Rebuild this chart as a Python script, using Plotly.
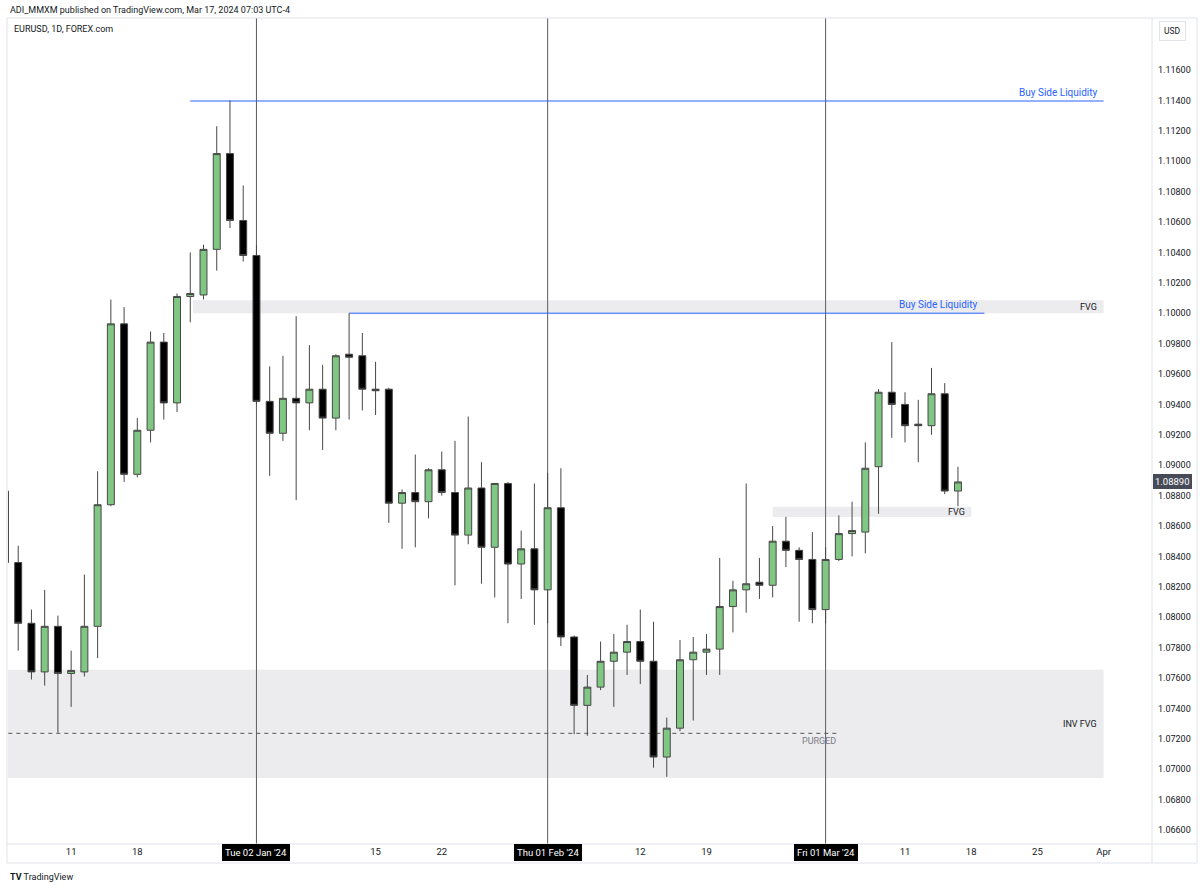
import pandas as pd
import plotly.graph_objects as go

# ── Daily EURUSD candles (FOREX.com) ─────────────────────────────────────────
dates = [
    "2023-12-04", "2023-12-05", "2023-12-06", "2023-12-07", "2023-12-08",
    "2023-12-11", "2023-12-12", "2023-12-13", "2023-12-14", "2023-12-15",
    "2023-12-18", "2023-12-19", "2023-12-20", "2023-12-21", "2023-12-22",
    "2023-12-26", "2023-12-27", "2023-12-28", "2023-12-29",
    "2024-01-02", "2024-01-03", "2024-01-04", "2024-01-05",
    "2024-01-08", "2024-01-09", "2024-01-10", "2024-01-11", "2024-01-12",
    "2024-01-15", "2024-01-16", "2024-01-17", "2024-01-18", "2024-01-19",
    "2024-01-22", "2024-01-23", "2024-01-24", "2024-01-25", "2024-01-26",
    "2024-01-29", "2024-01-30", "2024-01-31", "2024-02-01", "2024-02-02",
    "2024-02-05", "2024-02-06", "2024-02-07", "2024-02-08", "2024-02-09",
    "2024-02-12", "2024-02-13", "2024-02-14", "2024-02-15", "2024-02-16",
    "2024-02-19", "2024-02-20", "2024-02-21", "2024-02-22", "2024-02-23",
    "2024-02-26", "2024-02-27", "2024-02-28", "2024-02-29", "2024-03-01",
    "2024-03-04", "2024-03-05", "2024-03-06", "2024-03-07", "2024-03-08",
    "2024-03-11", "2024-03-12", "2024-03-13", "2024-03-14", "2024-03-15",
]
opens = [
    1.0883, 1.0836, 1.0796, 1.0764, 1.0794,
    1.0763, 1.0764, 1.0794, 1.0874, 1.0993,
    1.0894, 1.0923, 1.0981, 1.0941, 1.1011,
    1.1012, 1.1042, 1.1105, 1.1061,
    1.1038, 1.0942, 1.0921, 1.0944,
    1.0941, 1.0950, 1.0931, 1.0973, 1.0972,
    1.0950, 1.0950, 1.0875, 1.0882, 1.0876,
    1.0897, 1.0882, 1.0854, 1.0885, 1.0846,
    1.0888, 1.0835, 1.0845, 1.0818, 1.0872,
    1.0787, 1.0742, 1.0754, 1.0771, 1.0777,
    1.0784, 1.0771, 1.0708, 1.0727, 1.0772,
    1.0777, 1.0779, 1.0807, 1.0818, 1.0823,
    1.0821, 1.0850, 1.0844, 1.0838, 1.0805,
    1.0838, 1.0855, 1.0856, 1.0899, 1.0948,
    1.0940, 1.0927, 1.0926, 1.0947, 1.0883,
]
highs = [
    1.0895, 1.0847, 1.0805, 1.0818, 1.0801,
    1.0778, 1.0828, 1.0896, 1.1009, 1.1004,
    1.0931, 1.0988, 1.0987, 1.1013, 1.1040,
    1.1045, 1.1123, 1.1140, 1.1084,
    1.1045, 1.0965, 1.0972, 1.0998,
    1.0979, 1.0966, 1.0973, 1.1000, 1.0987,
    1.0968, 1.0951, 1.0884, 1.0907, 1.0898,
    1.0909, 1.0916, 1.0932, 1.0902, 1.0888,
    1.0889, 1.0857, 1.0888, 1.0895, 1.0898,
    1.0788, 1.0762, 1.0784, 1.0789, 1.0795,
    1.0805, 1.0797, 1.0734, 1.0785, 1.0787,
    1.0789, 1.0839, 1.0824, 1.0888, 1.0839,
    1.0860, 1.0866, 1.0846, 1.0856, 1.0846,
    1.0867, 1.0876, 1.0915, 1.0950, 1.0981,
    1.0948, 1.0943, 1.0964, 1.0954, 1.0899,
]
lows = [
    1.0834, 1.0778, 1.0759, 1.0755, 1.0724,
    1.0741, 1.0761, 1.0773, 1.0873, 1.0889,
    1.0892, 1.0915, 1.0930, 1.0935, 1.0994,
    1.1009, 1.1028, 1.1056, 1.1034,
    1.0940, 1.0893, 1.0916, 1.0877,
    1.0923, 1.0910, 1.0923, 1.0930, 1.0936,
    1.0933, 1.0862, 1.0845, 1.0846, 1.0865,
    1.0880, 1.0821, 1.0848, 1.0822, 1.0813,
    1.0796, 1.0812, 1.0795, 1.0796, 1.0781,
    1.0723, 1.0722, 1.0752, 1.0741, 1.0762,
    1.0756, 1.0701, 1.0695, 1.0725, 1.0732,
    1.0762, 1.0762, 1.0790, 1.0803, 1.0812,
    1.0813, 1.0833, 1.0797, 1.0796, 1.0796,
    1.0837, 1.0840, 1.0842, 1.0868, 1.0918,
    1.0915, 1.0902, 1.0920, 1.0881, 1.0873,
]
closes = [
    1.0836, 1.0796, 1.0764, 1.0794, 1.0763,
    1.0765, 1.0794, 1.0874, 1.0993, 1.0894,
    1.0923, 1.0981, 1.0941, 1.1011, 1.1013,
    1.1042, 1.1105, 1.1061, 1.1038,
    1.0942, 1.0921, 1.0944, 1.0941,
    1.0950, 1.0931, 1.0972, 1.0971, 1.0950,
    1.0949, 1.0875, 1.0882, 1.0876, 1.0897,
    1.0882, 1.0854, 1.0885, 1.0846, 1.0888,
    1.0835, 1.0845, 1.0818, 1.0872, 1.0787,
    1.0742, 1.0754, 1.0771, 1.0777, 1.0784,
    1.0771, 1.0708, 1.0727, 1.0772, 1.0777,
    1.0779, 1.0807, 1.0818, 1.0822, 1.0821,
    1.0850, 1.0844, 1.0838, 1.0805, 1.0838,
    1.0855, 1.0857, 1.0898, 1.0948, 1.0940,
    1.0926, 1.0926, 1.0947, 1.0883, 1.0889,
]

# ── Axis labels ──────────────────────────────────────────────────────────────
tick_dates = ["2023-12-11", "2023-12-18", "2024-01-15", "2024-01-22",
              "2024-02-12", "2024-02-19", "2024-03-11", "2024-03-18",
              "2024-03-25", "2024-04-01"]
tick_labels = ["11", "18", "15", "22", "12", "19", "11", "18", "25", "Apr"]

price_ticks = [1.066, 1.068, 1.070, 1.072, 1.074, 1.076, 1.078, 1.080,
               1.082, 1.084, 1.086, 1.088, 1.090, 1.092, 1.094, 1.096,
               1.098, 1.100, 1.102, 1.104, 1.106, 1.108, 1.110, 1.112,
               1.114, 1.116]

marker_dates = ["2024-01-02", "2024-02-01", "2024-03-01"]
marker_labels = ["Tue 02 Jan '24", "Thu 01 Feb '24", "Fri 01 Mar '24"]

# ── Drawn levels ─────────────────────────────────────────────────────────────
BSL_TOP     = 1.11396
BSL_MID     = 1.10000
FVG_UPPER   = (1.10000, 1.10086)
FVG_LOWER   = (1.08660, 1.08726)
INV_FVG     = (1.06942, 1.07655)
PURGED_LVL  = 1.07236
LAST_PRICE  = 1.08890

GREEN  = "#81c784"
WICK   = "#474747"
BLUE   = "#2962ff"
BAND   = "rgba(120,123,134,0.14)"
BORDER = "#e0e3eb"
TEXT   = "#131722"
FONT   = "Roboto, sans-serif"

NOON = pd.Timedelta(hours=12)


def day(d, hours=0):
    return pd.Timestamp(d) + NOON + pd.Timedelta(hours=hours)


# pixel -> paper helpers for the chrome around the plot (plot: x 8..1152, y 18..844)
def px(x):
    return (x - 8) / 1144


def py(y):
    return (844 - y) / 826


x = [day(d) for d in dates]

fig = go.Figure()

fig.add_trace(go.Candlestick(
    x=x, open=opens, high=highs, low=lows, close=closes,
    increasing=dict(fillcolor=GREEN, line=dict(color=WICK, width=1)),
    decreasing=dict(fillcolor="#000000", line=dict(color=WICK, width=1)),
    whiskerwidth=0, showlegend=False,
))

shapes = []

# ── Zones ───────────────────────────────────────────────────────────────────
shapes.append(dict(type="rect", xref="x", yref="y", layer="below",
                   x0=day("2023-12-22", 5), x1=day("2024-04-01"),
                   y0=FVG_UPPER[0], y1=FVG_UPPER[1],
                   fillcolor=BAND, line=dict(width=0)))
shapes.append(dict(type="rect", xref="x", yref="y", layer="below",
                   x0=day("2024-02-26"), x1=day("2024-03-18"),
                   y0=FVG_LOWER[0], y1=FVG_LOWER[1],
                   fillcolor=BAND, line=dict(width=0)))
shapes.append(dict(type="rect", xref="x", yref="y", layer="below",
                   x0=day("2023-11-27"), x1=day("2024-04-01"),
                   y0=INV_FVG[0], y1=INV_FVG[1],
                   fillcolor=BAND, line=dict(width=0)))

# ── Liquidity lines ─────────────────────────────────────────────────────────
shapes.append(dict(type="line", xref="x", yref="y", layer="below",
                   x0=day("2023-12-22"), x1=day("2024-04-01"),
                   y0=BSL_TOP, y1=BSL_TOP, line=dict(color=BLUE, width=1)))
shapes.append(dict(type="line", xref="x", yref="y", layer="below",
                   x0=day("2024-01-11"), x1=day("2024-03-19"),
                   y0=BSL_MID, y1=BSL_MID, line=dict(color=BLUE, width=1)))
shapes.append(dict(type="line", xref="x", yref="y", layer="below",
                   x0=day("2023-11-27"), x1=day("2024-03-04"),
                   y0=PURGED_LVL, y1=PURGED_LVL,
                   line=dict(color="#555555", width=1, dash="4px,4px")))

# ── Vertical month markers ──────────────────────────────────────────────────
for d in marker_dates:
    shapes.append(dict(type="line", xref="x", yref="paper", layer="below",
                       x0=day(d), x1=day(d), y0=0, y1=1,
                       line=dict(color="#5a5a5a", width=1)))

# ── Panel chrome ────────────────────────────────────────────────────────────
for x0, y0, x1, y1 in [(7, 18, 1197, 18), (7, 844, 1197, 844),
                       (7, 863, 1197, 863), (1152, 18, 1152, 863),
                       (7, 18, 7, 863), (1197, 18, 1197, 863)]:
    shapes.append(dict(type="line", xref="paper", yref="paper",
                       x0=px(x0), x1=px(x1), y0=py(y0), y1=py(y1),
                       line=dict(color=BORDER, width=1)))

annotations = []

# ── Zone / level labels ─────────────────────────────────────────────────────
annotations += [
    dict(x=day("2024-04-01"), y=BSL_TOP, xref="x", yref="y",
         text="Buy Side Liquidity", showarrow=False, xanchor="right",
         yanchor="bottom", xshift=-4, yshift=1,
         font=dict(family=FONT, size=10, color=BLUE)),
    dict(x=day("2024-03-19"), y=BSL_MID, xref="x", yref="y",
         text="Buy Side Liquidity", showarrow=False, xanchor="right",
         yanchor="bottom", xshift=-4, yshift=1,
         font=dict(family=FONT, size=10, color=BLUE)),
    dict(x=day("2024-04-01"), y=sum(FVG_UPPER) / 2, xref="x", yref="y",
         text="FVG", showarrow=False, xanchor="right", xshift=-5,
         font=dict(family=FONT, size=9, color=TEXT)),
    dict(x=day("2024-03-18"), y=sum(FVG_LOWER) / 2, xref="x", yref="y",
         text="FVG", showarrow=False, xanchor="right", xshift=-4,
         font=dict(family=FONT, size=9, color=TEXT)),
    dict(x=day("2024-04-01"), y=sum(INV_FVG) / 2, xref="x", yref="y",
         text="INV FVG", showarrow=False, xanchor="right", xshift=-5,
         font=dict(family=FONT, size=9, color=TEXT)),
    dict(x=day("2024-03-04"), y=PURGED_LVL, xref="x", yref="y",
         text="PURGED", showarrow=False, xanchor="right", yanchor="top",
         xshift=-1, yshift=-1,
         font=dict(family=FONT, size=9, color="#787b86")),
]

# ── Date boxes on the time axis ─────────────────────────────────────────────
for d, label in zip(marker_dates, marker_labels):
    annotations.append(dict(
        x=day(d), y=0, xref="x", yref="paper", text=label, showarrow=False,
        xanchor="center", yanchor="top", bgcolor="#000000",
        bordercolor="#000000", borderwidth=1, borderpad=2,
        font=dict(family=FONT, size=9.5, color="#ffffff"),
    ))

# ── Last price + header chrome ──────────────────────────────────────────────
annotations += [
    dict(x=1, y=LAST_PRICE, xref="paper", yref="y", text=f"{LAST_PRICE:.5f}",
         showarrow=False, xanchor="left", xshift=1, bgcolor="#474b57",
         bordercolor="#474b57", borderwidth=1, borderpad=1,
         font=dict(family=FONT, size=9.5, color="#ffffff")),
    dict(x=px(1172), y=py(31), xref="paper", yref="paper", text="USD",
         showarrow=False, xanchor="center", yanchor="middle",
         bordercolor=BORDER, borderwidth=1, borderpad=4,
         font=dict(family=FONT, size=8.5, color=TEXT)),
    dict(x=px(8), y=py(10), xref="paper", yref="paper",
         text="ADI_MMXM published on TradingView.com, Mar 17, 2024 07:03 UTC-4",
         showarrow=False, xanchor="left", yanchor="middle",
         font=dict(family=FONT, size=9, color=TEXT)),
    dict(x=px(12), y=py(29), xref="paper", yref="paper",
         text="EURUSD, 1D, FOREX.com", showarrow=False, xanchor="left",
         yanchor="middle", font=dict(family=FONT, size=9, color=TEXT)),
    dict(x=px(8), y=py(877), xref="paper", yref="paper",
         text="<b>TV</b> TradingView", showarrow=False, xanchor="left",
         yanchor="middle", font=dict(family=FONT, size=9, color=TEXT)),
]

fig.update_layout(
    width=1200, height=888,
    margin=dict(l=8, r=48, t=18, b=44),
    paper_bgcolor="#ffffff", plot_bgcolor="#ffffff",
    boxgap=0.25,
    showlegend=False,
    shapes=shapes, annotations=annotations,
    xaxis=dict(
        type="date",
        range=["2023-12-04 17:30", "2024-04-05 03:50"],
        rangebreaks=[dict(bounds=["sat", "mon"]),
                     dict(values=["2023-12-25", "2024-01-01"])],
        rangeslider=dict(visible=False),
        tickvals=[day(d) for d in tick_dates], ticktext=tick_labels,
        tickfont=dict(family=FONT, size=9.5, color=TEXT),
        showgrid=False, zeroline=False, showline=False, ticks="",
        fixedrange=True,
    ),
    yaxis=dict(
        side="right",
        range=[1.065079, 1.119421],
        tickvals=price_ticks, tickformat=".5f",
        tickfont=dict(family=FONT, size=9, color=TEXT),
        showgrid=False, zeroline=False, showline=False, ticks="",
        ticklabelstandoff=5, fixedrange=True,
    ),
)

# page body has an 8px default margin; drop it so the figure sits at (0, 0)
fig.write_html("out.html", config={"displayModeBar": False},
               post_script="document.body.style.margin='0px';")
